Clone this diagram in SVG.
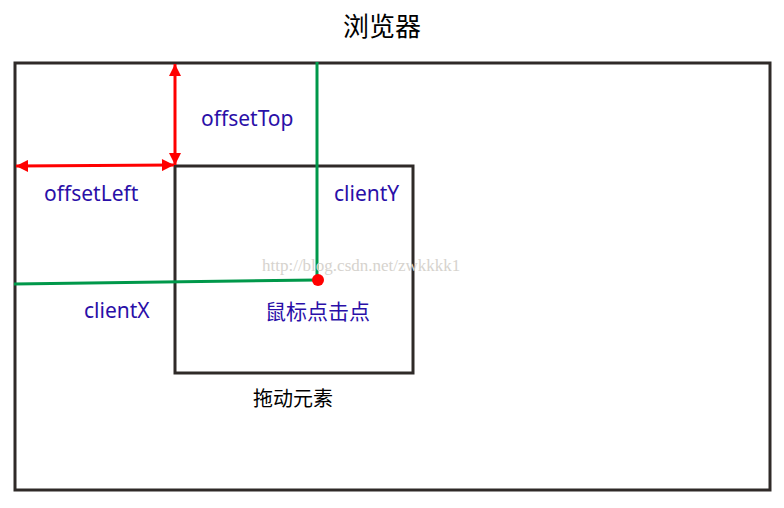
<svg xmlns="http://www.w3.org/2000/svg" width="784" height="508" viewBox="0 0 784 508">
<style>
.box{fill:none;stroke:#2f2a28;stroke-width:3}
.lbl{font-family:"Noto Sans","Noto Sans CJK SC",sans-serif;font-size:21px;fill:#2a0fa8}
.blk{font-family:"Noto Sans CJK SC",sans-serif;fill:#000}
.red{stroke:#f00;stroke-width:3;fill:none}
.grn{stroke:#00984a;stroke-width:3;fill:none}
</style>
<defs>
<marker id="ah" viewBox="0 0 10 10" refX="10" refY="5" markerWidth="5" markerHeight="4" orient="auto-start-reverse" markerUnits="strokeWidth"><path d="M0,0L10,5L0,10z" fill="#f00"/></marker>
</defs>
<rect width="784" height="508" fill="#fff"/>
<text class="blk" x="382" y="36" font-size="26" text-anchor="middle">浏览器</text>
<g id="browser"><rect class="box" x="15" y="63" width="755" height="427"/></g>
<g id="element"><rect class="box" x="175" y="166" width="238" height="207"/>
<text class="blk" x="293" y="406" font-size="20" text-anchor="middle">拖动元素</text></g>
<g id="connectors">
<line class="red" x1="175" y1="64" x2="175" y2="165" marker-start="url(#ah)" marker-end="url(#ah)"/>
<line class="red" x1="16" y1="166" x2="174" y2="165" marker-start="url(#ah)" marker-end="url(#ah)"/>
<line class="grn" x1="317" y1="62" x2="317" y2="280"/>
<line class="grn" x1="14" y1="284" x2="317" y2="280"/>
</g>
<g id="labels">
<text class="lbl" x="201" y="126">offsetTop</text>
<text class="lbl" x="44" y="201">offsetLeft</text>
<text class="lbl" x="334" y="201">clientY</text>
<text class="lbl" x="84" y="318">clientX</text>
<text class="lbl" x="265" y="319">鼠标点击点</text>
</g>
<text x="262" y="271" font-family="Liberation Serif,serif" font-size="17" fill="#d6d3ce">http://blog.csdn.net/zwkkkk1</text>
<g id="click"><circle cx="318" cy="280" r="6" fill="#f00"/></g>
</svg>
